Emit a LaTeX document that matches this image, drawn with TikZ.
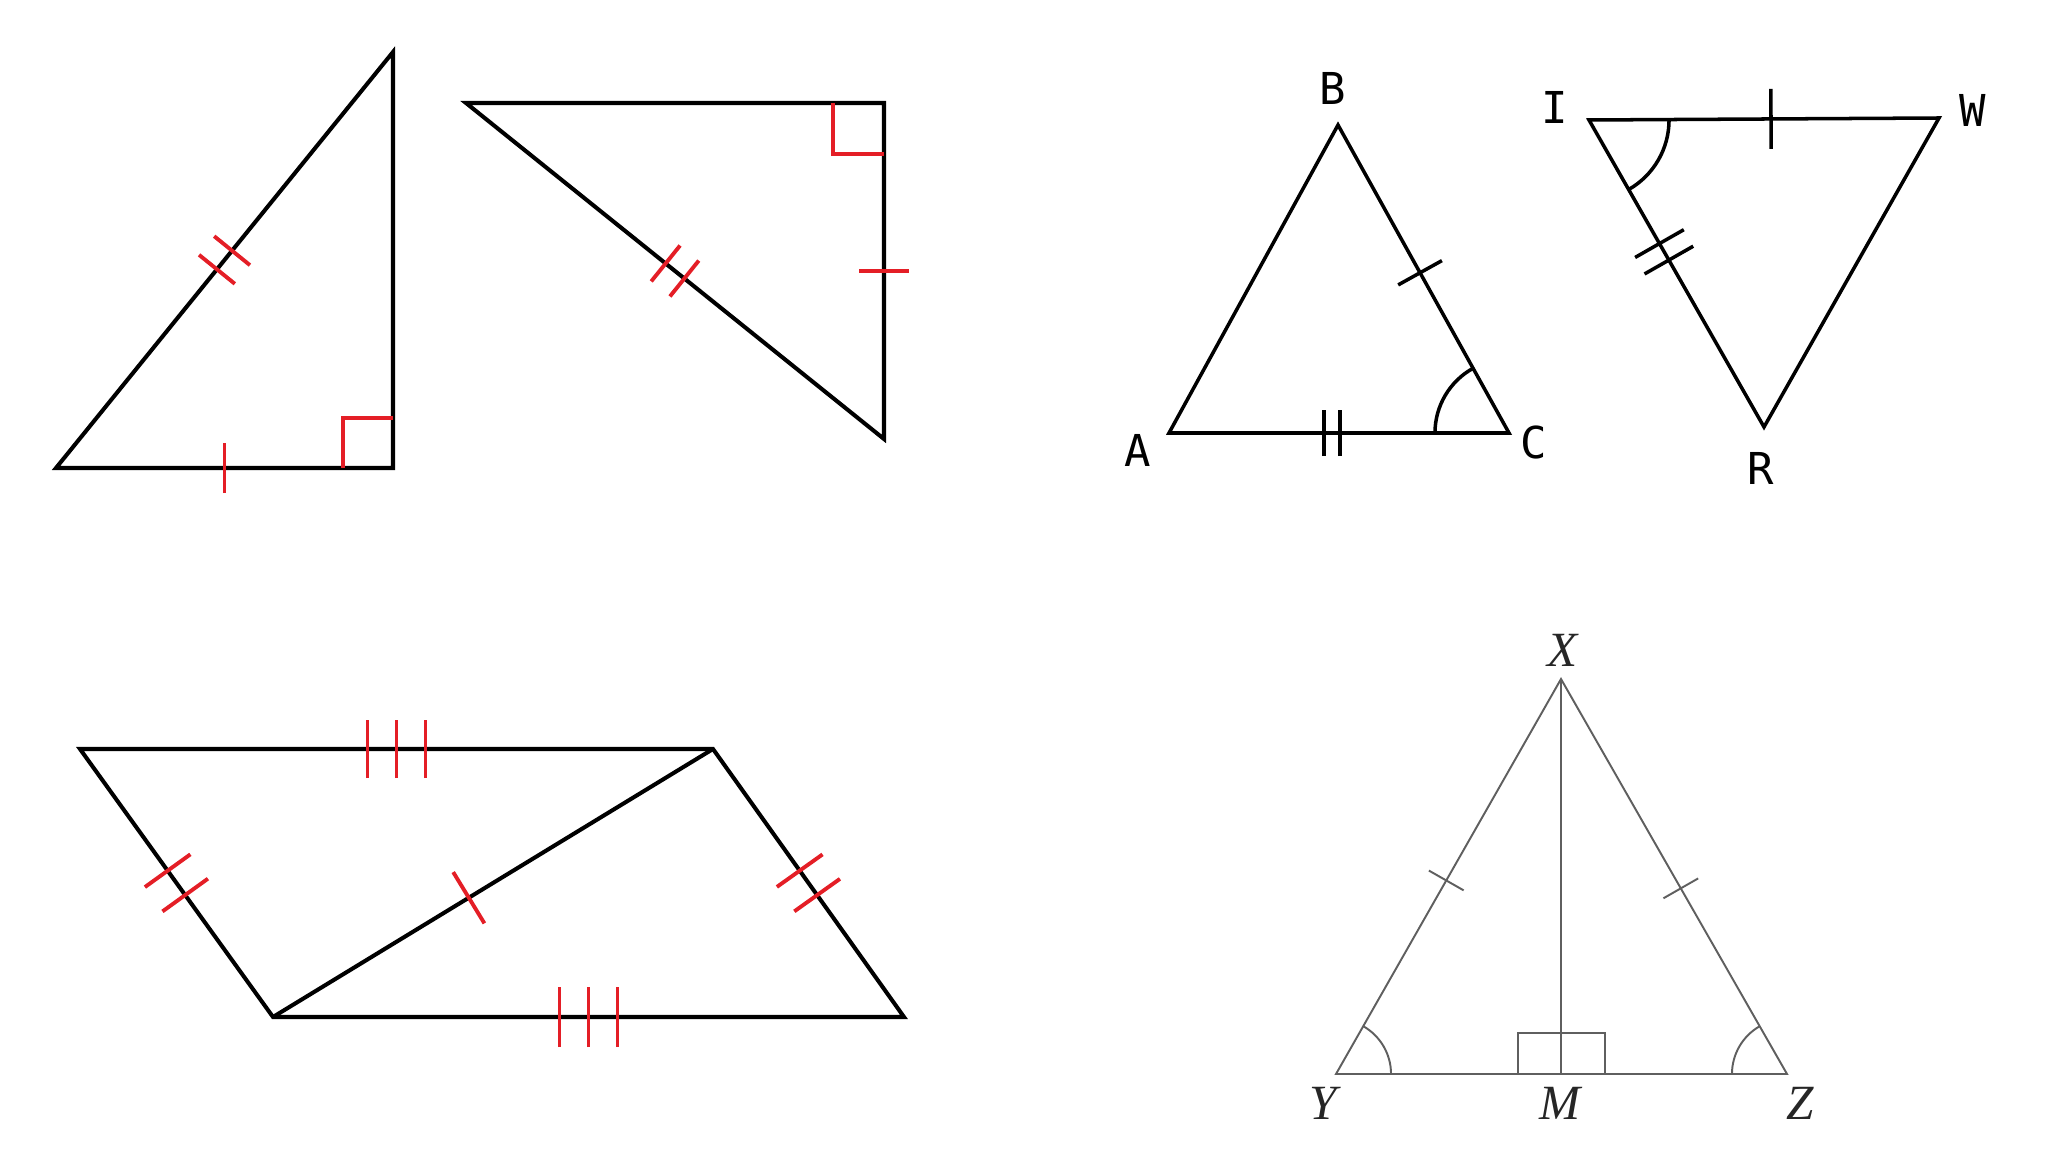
\documentclass[tikz,border=0pt]{standalone}
\usepackage{fontspec}
\usetikzlibrary{calc,angles,decorations.markings}
\newfontfamily\lblfont{DejaVu Sans Mono}
\newfontfamily\xyzfont{Liberation Serif}
\definecolor{markred}{RGB}{228,30,38}
\definecolor{thingray}{RGB}{95,95,95}

\tikzset{
  fig/.style={line width=1.15pt},
  abcfig/.style={line width=1pt},
  xyzfig/.style={thingray,line width=0.55pt},
  redtick/.style={markred,line width=1.1pt},
  blacktick/.style={line width=1pt},
  graytick/.style={thingray,line width=0.55pt},
  ticks/.style n args={4}{postaction={decorate,decoration={markings,
      mark=at position #1 with {\foreach \s in {#2} {\draw[#4] (\s,-#3) -- (\s,#3);}}}}},
  abclbl/.style={inner sep=0pt,font=\lblfont\fontsize{12.5}{12.5}\selectfont},
  xyzlbl/.style={inner sep=0pt,text=black!85,font=\xyzfont\itshape\fontsize{14}{14}\selectfont},
}

\begin{document}
\begin{tikzpicture}[x=0.01cm,y=-0.01cm]
\useasboundingbox (0,0) rectangle (2048,1152);

% first right triangle
\coordinate (ta) at (393,52);
\coordinate (tb) at (56,468);
\coordinate (tc) at (393,468);
\draw[fig] (ta) -- (tb) -- (tc) -- cycle;
\path[ticks={0.5}{-0.12cm,0.12cm}{0.23cm}{redtick}] (tb) -- (ta);
\path[ticks={0.5}{0cm}{0.25cm}{redtick}] (tb) -- (tc);
\draw[redtick] ($(tc)+(-50,0)$) |- ($(tc)+(0,-50)$);

% second right triangle
\coordinate (ua) at (466,103);
\coordinate (ub) at (884,103);
\coordinate (uc) at (884,439);
\draw[fig] (ua) -- (ub) -- (uc) -- cycle;
\path[ticks={0.5}{-0.12cm,0.12cm}{0.23cm}{redtick}] (ua) -- (uc);
\path[ticks={0.5}{0cm}{0.245cm}{redtick}] (ub) -- (uc);
\draw[redtick] ($(ub)+(-51,0)$) |- ($(ub)+(0,51)$);

% triangle ABC
\coordinate (A) at (1169,433);
\coordinate (B) at (1338,125);
\coordinate (C) at (1509,433);
\draw[abcfig] (A) -- (B) -- (C) -- cycle;
\path[ticks={0.48}{0cm}{0.25cm}{blacktick}] (B) -- (C);
\path[ticks={0.48}{-0.08cm,0.08cm}{0.23cm}{blacktick}] (A) -- (C);
\pic[draw,abcfig,angle radius=0.74cm] {angle=B--C--A};
\node[abclbl] (labA) at (1138,450) {A};
\node[abclbl] (labB) at (1333,88) {B};
\node[abclbl] (labC) at (1534,443) {C};

% triangle IWR
\coordinate (I) at (1589,120);
\coordinate (W) at (1939,118);
\coordinate (R) at (1764,427);
\draw[abcfig] (I) -- (W) -- (R) -- cycle;
\path[ticks={0.52}{0cm}{0.3cm}{blacktick}] (I) -- (W);
\path[ticks={0.43}{-0.095cm,0.095cm}{0.28cm}{blacktick}] (I) -- (R);
\pic[draw,abcfig,angle radius=0.8cm] {angle=R--I--W};
\node[abclbl] (labI) at (1555,107) {I};
\node[abclbl] (labW) at (1973,110) {W};
\node[abclbl] (labR) at (1761,468) {R};

% parallelogram with diagonal
\coordinate (pa) at (80,749);
\coordinate (pb) at (713,749);
\coordinate (pc) at (273,1017);
\coordinate (pd) at (904,1017);
\draw[fig] (pa) -- (pb) -- (pd) -- (pc) -- cycle;
\draw[fig] (pc) -- (pb);
\path[ticks={0.5}{-0.29cm,0cm,0.29cm}{0.29cm}{redtick}] (pa) -- (pb);
\path[ticks={0.5}{-0.29cm,0cm,0.29cm}{0.3cm}{redtick}] (pc) -- (pd);
\path[ticks={0.5}{-0.15cm,0.15cm}{0.28cm}{redtick}] (pa) -- (pc);
\path[ticks={0.5}{-0.15cm,0.15cm}{0.28cm}{redtick}] (pb) -- (pd);
\path[ticks={0.445}{0cm}{0.3cm}{redtick}] (pc) -- (pb);

% triangle XYZ
\coordinate (X) at (1561,679);
\coordinate (Y) at (1336,1074);
\coordinate (Z) at (1787,1074);
\coordinate (M) at (1561,1074);
\draw[xyzfig] (X) -- (Y) -- (Z) -- cycle;
\draw[xyzfig] (X) -- (M);
\draw[xyzfig] ($(M)+(-43,0)$) rectangle ($(M)+(44,-41)$);
\path[ticks={0.49}{0cm}{0.2cm}{graytick}] (Y) -- (X);
\path[ticks={0.47}{0cm}{0.2cm}{graytick}] (Z) -- (X);
\pic[draw,xyzfig,angle radius=0.55cm] {angle=Z--Y--X};
\pic[draw,xyzfig,angle radius=0.55cm] {angle=X--Z--Y};
\node[xyzlbl] (labX) at (1563,650) {X};
\node[xyzlbl] (labY) at (1323,1103) {Y};
\node[xyzlbl] (labM) at (1560,1103) {M};
\node[xyzlbl] (labZ) at (1800,1103) {Z};
\end{tikzpicture}
\end{document}
